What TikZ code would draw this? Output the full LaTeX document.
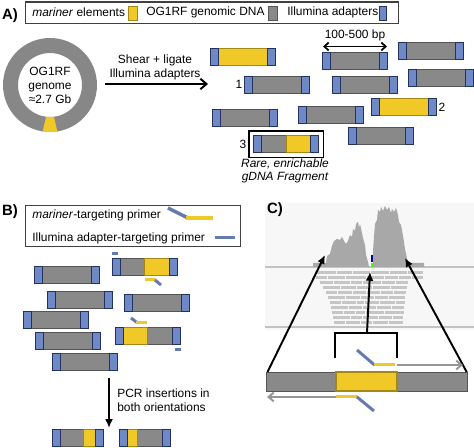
\documentclass[tikz,border=0pt]{standalone}
\usepackage{fontspec}
\setmainfont{Liberation Sans}
\usetikzlibrary{arrows.meta,fit,positioning}

\definecolor{fraggrey}{RGB}{137,137,137}
\definecolor{fragedge}{RGB}{85,85,85}
\definecolor{ringgrey}{RGB}{135,135,135}
\definecolor{insyellow}{RGB}{240,200,40}
\definecolor{insedge}{RGB}{165,135,20}
\definecolor{capblue}{RGB}{110,137,198}
\definecolor{capedge}{RGB}{35,50,95}
\definecolor{histgrey}{RGB}{168,168,168}
\definecolor{readgrey}{RGB}{198,198,198}
\definecolor{trackbg}{RGB}{247,247,247}
\definecolor{trackline}{RGB}{195,195,195}
\definecolor{extgrey}{RGB}{150,150,150}

\tikzstyle{fragb}=[rectangle,draw=fragedge,fill=fraggrey,line width=0.7pt,minimum width=1.3cm,minimum height=0.34cm,inner sep=0pt,anchor=north west]
\tikzstyle{capb}=[rectangle,draw=capedge,fill=capblue,line width=0.7pt,minimum width=0.16cm,minimum height=0.34cm,inner sep=0pt]
\tikzstyle{insy}=[rectangle,draw=insedge,fill=insyellow,line width=0.7pt,minimum height=0.34cm,inner sep=0pt]
\tikzstyle{lbl}=[inner sep=0pt]
\tikzstyle{panel}=[inner sep=0pt,font=\fontsize{8.5}{10}\selectfont\bfseries]
\tikzstyle{legbox}=[rectangle,draw=black!75,line width=0.6pt,inner sep=0pt,anchor=north west]
\tikzstyle{bprim}=[draw=capblue!90!black,line width=1.7pt]
\tikzstyle{yprim}=[draw=insyellow,line width=1.7pt]
\tikzstyle{carrow}=[line width=1.1pt,-{Latex[length=5pt,width=4.5pt]}]
\tikzstyle{ext}=[draw=extgrey,line width=1.1pt,-{Straight Barb[length=3pt,width=5pt]}]

\begin{document}
\begin{tikzpicture}[x=0.02cm,y=-0.02cm,font=\fontsize{6.8}{8}\selectfont]
    \useasboundingbox (0,0) rectangle (474,448);

    % panel A
    \node[panel] (pa) at (10,16) {A)};
    \node[legbox,minimum width=7.46cm,minimum height=0.43cm] (lega) at (25,1.5) {};
    \node[lbl,anchor=west] (lg-mar) at (32,12.5) {\textit{mariner} elements};
    \node[insy,minimum width=0.18cm,minimum height=0.28cm] (lg-y) at (133,13.5) {};
    \node[lbl,anchor=west] (lg-og) at (146,12.5) {OG1RF genomic DNA};
    \node[rectangle,draw=fragedge,fill=fraggrey,line width=0.7pt,minimum width=0.18cm,minimum height=0.28cm,inner sep=0pt] (lg-g) at (273,13.5) {};
    \node[lbl,anchor=west] (lg-il) at (287,12.5) {Illumina adapters};
    \node[capb,minimum width=0.15cm,minimum height=0.28cm] (lg-b) at (383,13.5) {};

    \node[circle,draw=ringgrey,line width=0.3cm,minimum size=1.58cm,inner sep=0pt,align=center] (genome) at (50,85) {OG1RF\\genome\\≈2.7 Gb};
    \fill[insyellow] (46,117) -- (54,117) -- (57.5,132) -- (42.5,132) -- cycle;

    \node[lbl,align=center] (shear) at (155,67) {Shear + ligate\\Illumina adapters};
    \coordinate (sh-a) at (105,84);
    \coordinate (sh-b) at (208,84);
    \draw[line width=1.1pt,-{Straight Barb[length=3.5pt,width=6pt]}] (sh-a) -- (sh-b);

    \foreach \n/\x/\y in {a1/210/48,a2/244/76,a3/212/109,a4/322/52,a5/332/76,a6/298/106,a7/398/42,a8/408/69,a9/371/98,a10/348/127,a11/253/135}
        \node[fragb] (\n) at (\x,\y) {};
    \node[insy,minimum width=0.98cm] (a1-y) at (a1.center) {};
    \node[insy,minimum width=0.98cm] (a9-y) at (a9.center) {};
    \node[insy,minimum width=0.48cm,anchor=east] (a11-y) at ([xshift=-0.16cm]a11.east) {};
    \foreach \n in {a1,a2,a3,a4,a5,a6,a7,a8,a9,a10,a11} {
        \node[capb,anchor=west] (\n-l) at (\n.west) {};
        \node[capb,anchor=east] (\n-r) at (\n.east) {};
    }

    \coordinate (bp-l) at (323,46.5);
    \coordinate (bp-r) at (387,46.5);
    \draw[line width=1pt,{Straight Barb[length=2.5pt,width=4.5pt]}-{Straight Barb[length=2.5pt,width=4.5pt]}] (bp-l) -- (bp-r);
    \node[lbl] (bp) at (355,35) {100-500 bp};

    \node[lbl] (n1) at (239,84.5) {1};
    \node[lbl] (n2) at (442,107) {2};
    \node[lbl] (n3) at (243,144) {3};
    \node[draw,line width=0.6pt,fit=(a11),inner sep=0.08cm] (box3) {};
    \node[lbl,align=center,font=\fontsize{6.8}{7.6}\selectfont\itshape] (rare) at (285,171) {Rare, enrichable\\gDNA Fragment};

    % panel B
    \node[panel] (pb) at (10,212) {B)};
    \node[legbox,minimum width=4.3cm,minimum height=0.82cm] (legb) at (25,205) {};
    \node[lbl,anchor=west] (lg-mt) at (32,215) {\textit{mariner}-targeting primer};
    \node[lbl,anchor=west] (lg-at) at (32,238) {Illumina adapter-targeting primer};
    \draw[bprim,line width=2pt] (168,208) -- (187,217.5);
    \draw[yprim,line width=2pt] (186,218) -- (213,218);
    \draw[bprim,line width=2pt] (215,237.5) -- (235,237.5);

    \foreach \n/\x/\y in {b1/34/266,b2/112/258,b3/47/291,b4/124/294,b5/23/311,b6/35/332,b7/115/327,b8/52/353}
        \node[fragb] (\n) at (\x,\y) {};
    \node[fragb,minimum width=1.02cm] (b9) at (52,429) {};
    \node[fragb,minimum width=1.02cm] (b10) at (119,429) {};
    \node[insy,minimum width=0.5cm,anchor=east] (b2-y) at ([xshift=-0.16cm]b2.east) {};
    \node[insy,minimum width=0.48cm,anchor=west] (b7-y) at ([xshift=0.16cm]b7.west) {};
    \node[insy,minimum width=0.24cm,anchor=east] (b9-y) at ([xshift=-0.16cm]b9.east) {};
    \node[insy,minimum width=0.2cm,anchor=west] (b10-y) at ([xshift=0.16cm]b10.west) {};
    \foreach \n in {b1,b2,b3,b4,b5,b6,b7,b8,b9,b10} {
        \node[capb,anchor=west] (\n-l) at (\n.west) {};
        \node[capb,anchor=east] (\n-r) at (\n.east) {};
    }

    % primers bound to fragments
    \draw[bprim] (112,254) -- (118,254);
    \draw[yprim] (145,280) -- (155.5,280);
    \draw[bprim] (155,280) -- (161,285);
    \draw[bprim] (131,318) -- (137,322.5);
    \draw[yprim] (136,322.5) -- (147,322.5);
    \draw[bprim] (175,349.5) -- (181,349.5);

    \coordinate (pcr-a) at (109,378);
    \coordinate (pcr-b) at (109,428);
    \draw[carrow] (pcr-a) -- (pcr-b);
    \node[lbl,align=left,anchor=west] (pcr) at (117,400) {PCR insertions in\\both orientations};

    % panel C
    \fill[trackbg] (265,203) rectangle (474,330);
    \node[panel] (pc) at (275,210) {C)};
    \draw[trackline,line width=0.6pt] (265,267) -- (474,267);
    \draw[trackline,line width=0.6pt] (265,327) -- (474,327);

    \fill[histgrey] (313,267) -- (313,263) -- (326,263) -- (327,256) -- (330,254) -- (332,246) -- (334,241)
        -- (337,239) -- (340,240) -- (342,237) -- (344,241) -- (346,244) -- (348,241) -- (350,235)
        -- (352,237) -- (353,229) -- (355,231) -- (356,224) -- (358,222) -- (359,228) -- (360,224)
        -- (362,233) -- (363,238) -- (365,245) -- (366,255) -- (368,262) -- (369,267) -- cycle;
    \fill[histgrey] (373,267) -- (373,252) -- (374,236) -- (375,224) -- (377,220) -- (378,210)
        -- (380,212) -- (381,207) -- (383,211) -- (385,206) -- (387,210) -- (389,207) -- (391,213)
        -- (392,209) -- (394,212) -- (396,208) -- (398,215) -- (399,222) -- (401,225) -- (402,230)
        -- (404,242) -- (405,249) -- (407,258) -- (408,263) -- (424,263) -- (424,267) -- cycle;
    \draw[blue!60!black,line width=1pt] (372,255) -- (372,262);
    \fill[green!75!yellow] (370.5,263) rectangle (373.5,267);

    \foreach \y/\l/\r/\gaps in {271/315/423/{336,352,370,389,407},276/316/423/{327,345,366,384,398,411},
        281/320/408/{333,350,362,381,395},286/323/407/{340,356,372,390},291/326/406/{337,352,366,380,393},
        296/328/405/{345,360,374,388},301/330/405/{341,356,364,379,395},306/331/404/{348,362,376,391},
        311/332/404/{343,355,365,384},316/333/403/{350,362,378,392},321/334/403/{345,360,372,388}} {
        \fill[readgrey] (\l,\y) rectangle (\r,\y+3.5);
        \foreach \g in \gaps
            \fill[trackbg] (\g,\y) rectangle (\g+1.4,\y+3.5);
    }

    \node[rectangle,draw=fragedge,fill=fraggrey,line width=0.7pt,minimum width=4.02cm,minimum height=0.38cm,inner sep=0pt,anchor=north west] (cbar) at (266,372) {};
    \node[insy,minimum width=1.22cm,minimum height=0.38cm] (cbar-y) at (366.5,381.5) {};

    \coordinate (hl) at (325,255);
    \coordinate (hr) at (405,258);
    \coordinate (hm) at (370,272);
    \coordinate (br-m) at (367,333);
    \draw[carrow] ([xshift=0.03cm]cbar.north west) -- (hl);
    \draw[carrow] ([xshift=-0.03cm]cbar.north east) -- (hr);
    \draw[line width=1.1pt] (335,358) |- (br-m) -| (397,358);
    \draw[carrow] (br-m) -- (hm);

    \coordinate (e1a) at (397,365);
    \coordinate (e1b) at (463,365);
    \coordinate (e2a) at (336,397);
    \coordinate (e2b) at (267,397);
    \draw[bprim] (357,350) -- (374.5,365);
    \draw[yprim] (374,365) -- (395,365);
    \draw[ext] (e1a) -- (e1b);
    \draw[ext] (e2a) -- (e2b);
    \draw[yprim] (336,397) -- (357.5,397);
    \draw[bprim] (357,397) -- (374,411);
\end{tikzpicture}
\end{document}
